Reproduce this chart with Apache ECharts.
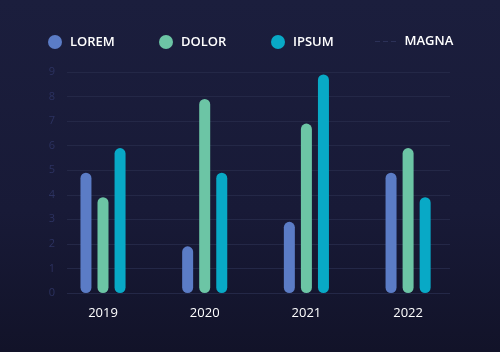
<!DOCTYPE html>
<html>
<head>
<meta charset="utf-8">
<script src="https://cdn.jsdelivr.net/npm/echarts@6/dist/echarts.min.js"></script>
<style>
    html, body { margin: 0; padding: 0; }
    body { background: linear-gradient(180deg, #1b1e3d 0%, #181a37 60%, #121329 100%); }
    #chart { width: 500px; height: 352px; }
</style>
</head>
<body>
<div id="chart"></div>
<script>
// 年份 & 各系列数值
const years = ['2019', '2020', '2021', '2022'];
const lorem = [4.9, 1.9, 2.9, 4.9];
const dolor = [3.9, 7.9, 6.9, 5.9];
const ipsum = [5.9, 4.9, 8.9, 3.9];
const magna = [];
const yTicks = [0, 1, 2, 3, 4, 5, 6, 7, 8, 9];

const colors = {
    lorem: '#5b7cc6',
    dolor: '#6cc5a5',
    ipsum: '#08a9c6',
    magna: '#2c3158'
};

const toPoints = arr => arr.map((v, i) => [i, v]);

const legendText = {
    color: '#ffffff',
    fontSize: 13,
    fontWeight: 600,
    fontFamily: 'Open Sans',
    padding: [0, 0, 0, 3]
};

function legendAt (name, left, icon, w, h) {
    return {
        data: [{ name: name, icon: icon }],
        left: left,
        top: 30,
        itemWidth: w,
        itemHeight: h,
        textStyle: legendText,
        selectedMode: false
    };
}

const barSeries = (name, values, color) => ({
    name: name,
    type: 'bar',
    data: toPoints(values),
    barWidth: 11,
    barGap: '55%',
    itemStyle: { color: color, borderRadius: 6 }
});

const option = {
    backgroundColor: 'transparent',
    animation: false,
    legend: [
        legendAt('LOREM', 43, 'circle', 14, 14),
        legendAt('DOLOR', 154, 'circle', 14, 14),
        legendAt('IPSUM', 266, 'circle', 14, 14),
        // 虚线图标，几乎看不见
        legendAt('MAGNA', 370, 'path://M0,0h5v1h-5z M8,0h5v1h-5z M16,0h5v1h-5z', 22, 1)
    ],
    grid: {
        left: 67,
        right: 50,
        top: 72,
        bottom: 59
    },
    xAxis: {
        type: 'value',
        min: -0.354,
        max: 3.412,
        splitLine: { show: false },
        axisLine: { show: false },
        axisTick: { show: false },
        axisLabel: {
            customValues: [0, 1, 2, 3],
            formatter: v => years[v] || '',
            color: '#ffffff',
            fontSize: 13,
            fontFamily: 'Open Sans',
            margin: 14
        }
    },
    yAxis: {
        type: 'value',
        min: 0,
        max: 9,
        interval: 1,
        axisLine: { show: false },
        axisTick: { show: false },
        splitLine: { lineStyle: { color: '#242847', width: 1 } },
        axisLabel: {
            formatter: v => (yTicks.indexOf(v) > -1 ? String(v) : ''),
            color: '#2c3260',
            fontSize: 11,
            fontFamily: 'Open Sans',
            margin: 12
        }
    },
    series: [
        barSeries('LOREM', lorem, colors.lorem),
        barSeries('DOLOR', dolor, colors.dolor),
        barSeries('IPSUM', ipsum, colors.ipsum),
        {
            name: 'MAGNA',
            type: 'line',
            data: magna,
            symbol: 'none',
            itemStyle: { color: colors.magna },
            lineStyle: { color: colors.magna, type: 'dashed', width: 1 }
        }
    ]
};

const myChart = echarts.init(document.getElementById('chart'));
myChart.setOption(option);
</script>
</body>
</html>
